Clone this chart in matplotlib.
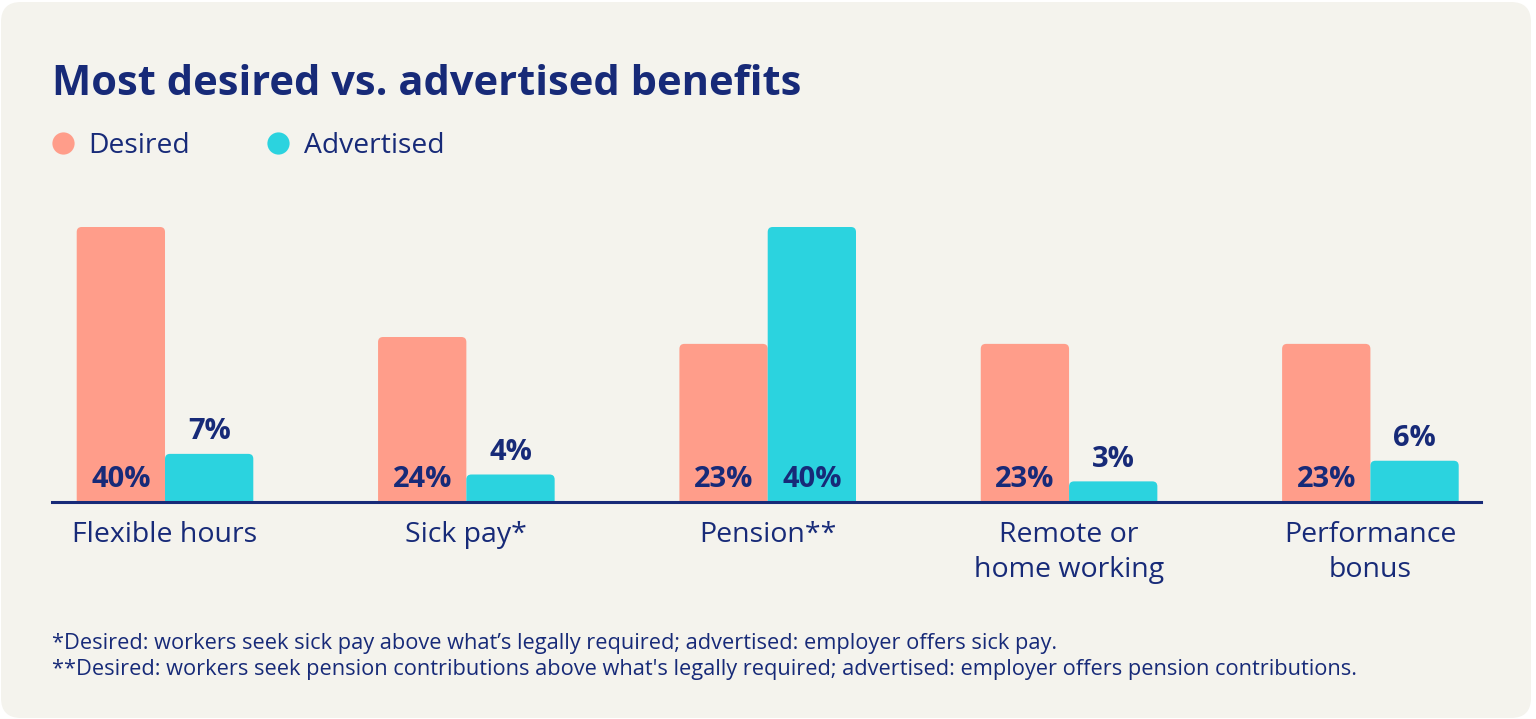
import matplotlib
matplotlib.use('Agg')
import matplotlib.pyplot as plt
from matplotlib.patches import FancyBboxPatch
from matplotlib.lines import Line2D
import numpy as np

categories = ['Flexible hours', 'Sick pay*', 'Pension**', 'Remote or\nhome working', 'Performance\nbonus']
desired = [40, 24, 23, 23, 23]
advertised = [7, 4, 40, 3, 6]
series_names = ['Desired', 'Advertised']
title = 'Most desired vs. advertised benefits'
footnotes = [
    "*Desired: workers seek sick pay above what\u2019s legally required; advertised: employer offers sick pay.",
    "**Desired: workers seek pension contributions above what's legally required; advertised: employer offers pension contributions.",
]

NAVY = '#172a78'
SALMON = '#ff9d8a'
CYAN = '#2bd3df'
BG = '#f4f3ed'
FONT = 'Open Sans'

W, H = 1536, 719
fig = plt.figure(figsize=(W / 100, H / 100), dpi=100)
fig.patch.set_facecolor('white')

# rounded background panel (inches)
panel = FancyBboxPatch((0.01, 0.01), W / 100 - 0.06, H / 100 - 0.03,
                       boxstyle='round,pad=0,rounding_size=0.2',
                       transform=fig.dpi_scale_trans, facecolor=BG,
                       edgecolor='none', zorder=-10)
fig.patches.append(panel)

ax = fig.add_axes([52 / W, 1 - 502 / H, (1481 - 52) / W, 275 / H])
ax.set_facecolor('none')
ax.set_zorder(1)

x = np.arange(len(categories))
w = 0.293
ax.set_xlim(-0.375, 4.367)
ax.set_ylim(0, 40)
b1 = ax.bar(x - w / 2, desired, w, color=SALMON, zorder=2)
b2 = ax.bar(x + w / 2, advertised, w, color=CYAN, zorder=2)

# round the top corners of the bars (replace rectangles by rounded boxes)
fig.canvas.draw()
px_per_x = ax.transData.transform((1, 0))[0] - ax.transData.transform((0, 0))[0]
px_per_y = ax.transData.transform((0, 1))[1] - ax.transData.transform((0, 0))[1]
radius_px = 5
rx = radius_px / px_per_x
aspect = (radius_px / px_per_y) / rx
ext = 2 * radius_px / px_per_y
for cont in (b1, b2):
    for r in cont.patches:
        r.set_visible(False)
        fb = FancyBboxPatch((r.get_x(), -ext), r.get_width(), r.get_height() + ext,
                            boxstyle=f'round,pad=0,rounding_size={rx}',
                            mutation_aspect=aspect, facecolor=r.get_facecolor(),
                            edgecolor='none', zorder=2)
        ax.add_patch(fb)

for s in ['top', 'right', 'left']:
    ax.spines[s].set_visible(False)
ax.spines['bottom'].set_color(NAVY)
ax.spines['bottom'].set_linewidth(2.2)
ax.spines['bottom'].set_zorder(3)
ax.set_yticks([])
ax.set_xticks(x)
ax.set_xticklabels(categories, fontsize=20.5, color=NAVY, family=FONT,
                   linespacing=1.33)
ax.tick_params(axis='x', length=0, pad=14)

# value labels
for xi, v in zip(x, desired):
    ax.annotate(f'{v}%', (xi - w / 2, 0), xytext=(0, 10.5), textcoords='offset points',
                ha='center', va='baseline', fontsize=21, fontweight='bold',
                color=NAVY, family=FONT, zorder=4)
for xi, v in zip(x, advertised):
    if v >= 20:
        pos = (xi + w / 2, 0)
    else:
        pos = (xi + w / 2, v)
    ax.annotate(f'{v}%', pos, xytext=(0, 10.5), textcoords='offset points',
                ha='center', va='baseline', fontsize=21, fontweight='bold',
                color=NAVY, family=FONT, zorder=4)

# title
fig.text(52 / W, 1 - 95 / H, title, ha='left', va='baseline', fontsize=30,
         fontweight='bold', color=NAVY, family=FONT)

# legend
handles = [Line2D([], [], marker='o', linestyle='none', markersize=16,
                  markerfacecolor=c, markeredgecolor='none') for c in (SALMON, CYAN)]
leg = fig.legend(handles, series_names, loc='center left',
                 bbox_to_anchor=(26 / W, 1 - 146 / H), ncol=2, frameon=False,
                 handlelength=0.8, handletextpad=0.5, columnspacing=2.75,
                 prop={'family': FONT, 'size': 20.3})
for t in leg.get_texts():
    t.set_color(NAVY)

# footnotes
for i, line in enumerate(footnotes):
    fig.text(52 / W, 1 - (649 + 26 * i) / H, line, ha='left', va='baseline',
             fontsize=15.7, color=NAVY, family=FONT)

fig.savefig('out.png', dpi=100, facecolor='white')
